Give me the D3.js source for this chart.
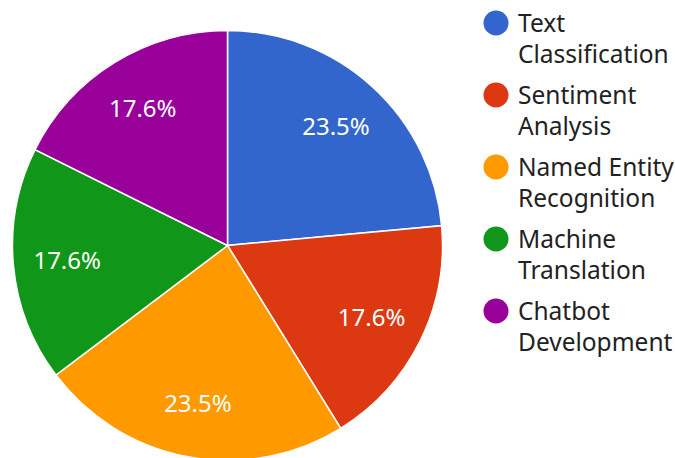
<!DOCTYPE html>
<html>
<head>
<meta charset="utf-8">
<script src="https://cdn.jsdelivr.net/npm/d3@7"></script>
<style>
  body { margin: 0; background: #fff; }
  svg { display: block; font-family: "Noto Sans", "Open Sans", sans-serif; }
</style>
</head>
<body>
<svg id="chart"></svg>
<script>
// Chart data
const categories = [
  ["Text", "Classification"],
  ["Sentiment", "Analysis"],
  ["Named Entity", "Recognition"],
  ["Machine", "Translation"],
  ["Chatbot", "Development"]
];
const values = [4, 3, 4, 3, 3];
const colors = ["#3366cc", "#dc3912", "#ff9900", "#109618", "#990099"];

// Setting up the svg
const width = 675;
const height = 458;
const cx = 227.5;
const cy = 245.5;
const radius = 215;

const svg = d3.select("#chart")
  .attr("width", width)
  .attr("height", height);

const total = d3.sum(values);
const pie = d3.pie().sort(null).value(d => d)(values);
const arc = d3.arc().innerRadius(0).outerRadius(radius);
const labelArc = d3.arc().innerRadius(161).outerRadius(161);

const g = svg.append("g").attr("transform", `translate(${cx},${cy})`);

// Slices
g.selectAll("path")
  .data(pie)
  .join("path")
  .attr("d", arc)
  .attr("fill", (d, i) => colors[i])
  .attr("stroke", "#fff")
  .attr("stroke-width", 1.5);

// Percent labels
g.selectAll("text")
  .data(pie)
  .join("text")
  .attr("transform", d => `translate(${labelArc.centroid(d)})`)
  .attr("text-anchor", "middle")
  .attr("dy", "0.36em")
  .style("font-size", "24px")
  .style("fill", "#fff")
  .text(d => (d.value / total * 100).toFixed(1) + "%");

// Legend
const legend = svg.append("g").attr("transform", "translate(496,23)");
const item = legend.selectAll("g")
  .data(categories)
  .join("g")
  .attr("transform", (d, i) => `translate(0,${i * 72})`);

item.append("circle")
  .attr("r", 12.5)
  .attr("fill", (d, i) => colors[i]);

item.append("text")
  .style("font-size", "24.5px")
  .style("fill", "#222")
  .selectAll("tspan")
  .data(d => d)
  .join("tspan")
  .attr("x", 22)
  .attr("y", (d, i) => 9 + i * 31)
  .text(d => d);
</script>
</body>
</html>
